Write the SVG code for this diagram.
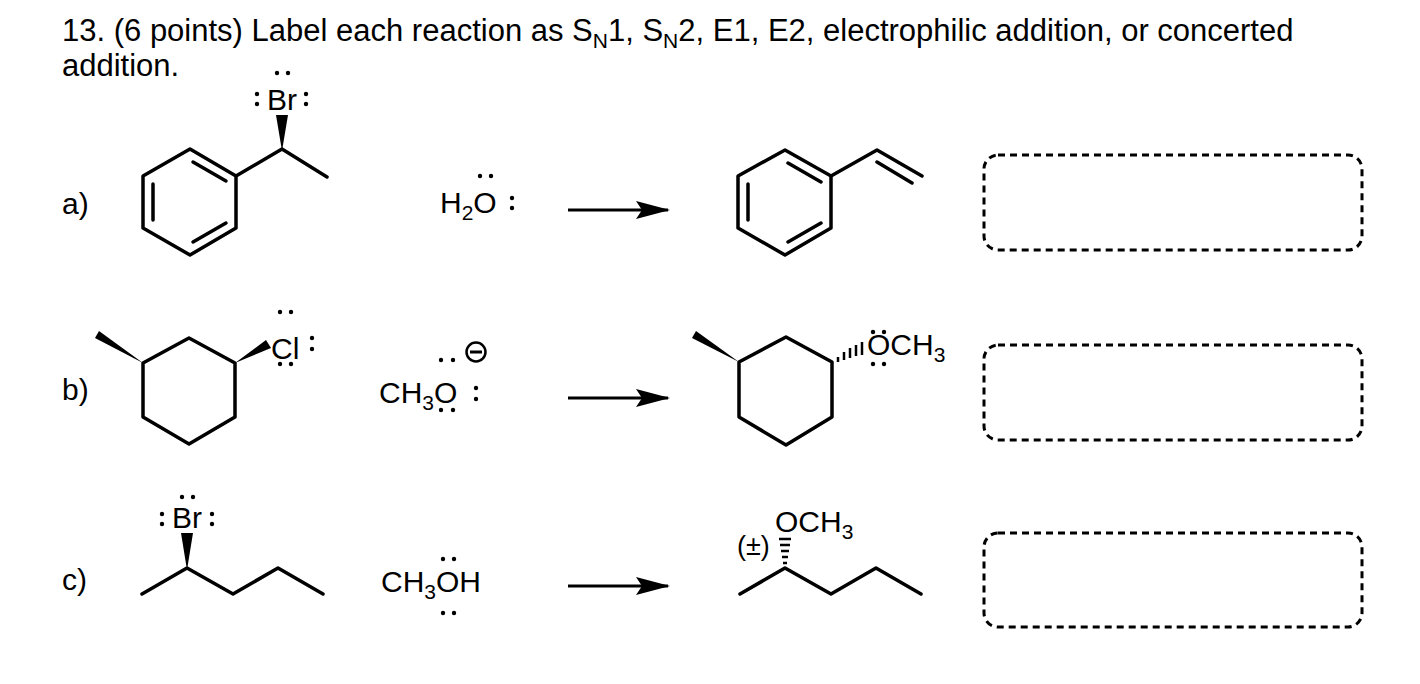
<svg xmlns="http://www.w3.org/2000/svg" width="1420" height="684" viewBox="0 0 1420 684">
<style>
text{font-family:"Liberation Sans",Arial,sans-serif;fill:#000}
.t{font-size:31px}
.a{font-size:30px}
.s{font-size:21px}
.b{fill:none;stroke:#000;stroke-width:3.5;stroke-linejoin:round;stroke-linecap:round}
.box{fill:none;stroke:#000;stroke-width:3;stroke-dasharray:7 5}
.arr{stroke:#000;stroke-width:3}
</style>
<defs>
<marker id="ah" markerWidth="34" markerHeight="18" refX="32" refY="9" markerUnits="userSpaceOnUse" orient="auto"><path d="M0,0 L34,9 L0,18 L6,9 Z" fill="#000"/></marker>
</defs>
<rect width="1420" height="684" fill="#fff"/>
<text class="t" x="62" y="41">13. (6 points) Label each reaction as S<tspan class="s" dy="7">N</tspan><tspan dy="-7">1, S</tspan><tspan class="s" dy="7">N</tspan><tspan dy="-7">2, E1, E2, electrophilic addition, or concerted</tspan></text>
<text class="t" x="62" y="76">addition.</text>
<text class="a" x="62" y="214">a)</text>
<text class="a" x="62" y="400">b)</text>
<text class="a" x="62" y="590">c)</text>

<g id="a-reactant">
<path class="b" d="M190,149 L236,176 L236,228 L190,255 L143,228 L143,176 Z M236,176 L282,149 L327,177"/>
<path class="b" d="M153,184 L153,220 M193,162 L226,181 M193,242 L226,223"/>
<path d="M282,151 L276,115 L288,115 Z" fill="#000"/>
<text class="a" x="282" y="110" text-anchor="middle">Br</text>
<g fill="#000"><circle cx="277" cy="73" r="2.2"/><circle cx="288" cy="73" r="2.2"/><circle cx="257" cy="94" r="2.2"/><circle cx="257" cy="104" r="2.2"/><circle cx="306" cy="94" r="2.2"/><circle cx="306" cy="104" r="2.2"/></g>
</g>
<g id="a-reagent">
<text class="a" x="440" y="213">H<tspan class="s" dy="7">2</tspan><tspan dy="-7">O</tspan></text>
<g fill="#000"><circle cx="480" cy="176" r="2.2"/><circle cx="491" cy="176" r="2.2"/><circle cx="512" cy="198" r="2.2"/><circle cx="512" cy="208" r="2.2"/></g>
</g>
<g id="a-product">
<path class="b" d="M785,150 L831,176 L831,228 L785,255 L738,228 L738,176 Z M831,176 L877,150 L922,176"/>
<path class="b" d="M748,184 L748,220 M788,163 L821,182 M788,242 L821,223 M877,162 L912,183"/>
</g>
<rect class="box" x="984" y="155" width="378" height="95" rx="14"/>

<g id="b-reactant">
<path class="b" d="M189,338 L235,363 L235,417 L189,444 L143,417 L143,363 Z"/>
<path d="M143,363 L95,338 L99,331 Z" fill="#000"/>
<path d="M235,363 L266,340 L271,348 Z" fill="#000"/>
<text class="a" x="271" y="359">Cl</text>
<g fill="#000"><circle cx="280" cy="312" r="2.2"/><circle cx="291" cy="312" r="2.2"/><circle cx="280" cy="364" r="2.2"/><circle cx="291" cy="364" r="2.2"/><circle cx="312" cy="338" r="2.2"/><circle cx="312" cy="349" r="2.2"/></g>
</g>
<g id="b-reagent">
<text class="a" x="379" y="403">CH<tspan class="s" dy="7">3</tspan><tspan dy="-7">O</tspan></text>
<g fill="#000"><circle cx="441" cy="360" r="2.2"/><circle cx="453" cy="360" r="2.2"/><circle cx="441" cy="410" r="2.2"/><circle cx="453" cy="410" r="2.2"/><circle cx="476" cy="388" r="2.2"/><circle cx="476" cy="399" r="2.2"/></g>
<circle cx="476" cy="352" r="9.5" fill="none" stroke="#000" stroke-width="2.5"/>
<line x1="470" y1="352" x2="482" y2="352" stroke="#000" stroke-width="3"/>
</g>
<g id="b-product">
<path class="b" d="M786,337 L832,362 L832,417 L786,445 L739,417 L739,362 Z"/>
<path d="M739,362 L692,338 L696,331 Z" fill="#000"/>
<g stroke="#000" stroke-width="2.5"><line x1="838" y1="357" x2="838" y2="362"/><line x1="844" y1="352" x2="844" y2="360"/><line x1="850" y1="348" x2="850" y2="358"/><line x1="856" y1="345" x2="856" y2="356"/><line x1="862" y1="342" x2="862" y2="355"/></g>
<text class="a" x="867" y="355">OCH<tspan class="s" dy="7">3</tspan></text>
<g fill="#000"><circle cx="873" cy="332" r="2.2"/><circle cx="884" cy="332" r="2.2"/><circle cx="873" cy="364" r="2.2"/><circle cx="884" cy="364" r="2.2"/></g>
</g>
<rect class="box" x="984" y="345" width="378" height="95" rx="14"/>

<g id="c-reactant">
<path class="b" d="M142,594 L187,568 L233,594 L278,568 L323,594"/>
<path d="M187,570 L181,533 L193,533 Z" fill="#000"/>
<text class="a" x="187" y="528" text-anchor="middle">Br</text>
<g fill="#000"><circle cx="182" cy="497" r="2.2"/><circle cx="193" cy="497" r="2.2"/><circle cx="162" cy="514" r="2.2"/><circle cx="162" cy="524" r="2.2"/><circle cx="212" cy="514" r="2.2"/><circle cx="212" cy="524" r="2.2"/></g>
</g>
<g id="c-reagent">
<text class="a" x="381" y="592">CH<tspan class="s" dy="7">3</tspan><tspan dy="-7">OH</tspan></text>
<g fill="#000"><circle cx="443" cy="559" r="2.2"/><circle cx="454" cy="559" r="2.2"/><circle cx="443" cy="613" r="2.2"/><circle cx="454" cy="613" r="2.2"/></g>
</g>
<g id="c-product">
<path class="b" d="M740,594 L785,568 L831,594 L876,568 L921,594"/>
<g stroke="#000" stroke-width="2.5"><line x1="783" y1="563" x2="787" y2="563"/><line x1="782" y1="557" x2="788" y2="557"/><line x1="781" y1="551" x2="789" y2="551"/><line x1="780" y1="545" x2="790" y2="545"/><line x1="779" y1="539" x2="791" y2="539"/></g>
<text class="a" x="737" y="555" style="font-size:27px">(±)</text>
<text class="a" x="775" y="532">OCH<tspan class="s" dy="7">3</tspan></text>
</g>
<rect class="box" x="984" y="533" width="378" height="94" rx="14"/>

<g id="connectors">
<line class="arr" x1="568" y1="210" x2="668" y2="210" marker-end="url(#ah)"/>
<line class="arr" x1="568" y1="398" x2="668" y2="398" marker-end="url(#ah)"/>
<line class="arr" x1="568" y1="586" x2="668" y2="586" marker-end="url(#ah)"/>
</g>
</svg>
